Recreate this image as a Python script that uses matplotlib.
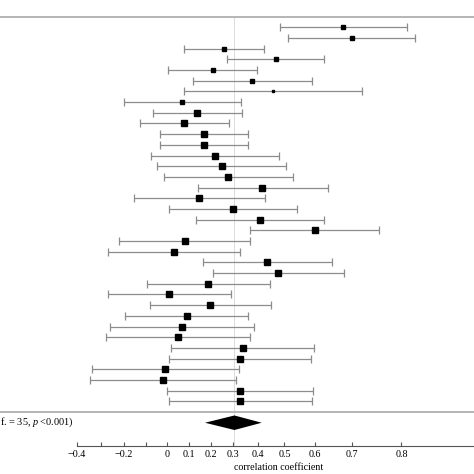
import numpy as np
import matplotlib
matplotlib.use('Agg')
import matplotlib.pyplot as plt
import matplotlib.transforms as mtransforms

# study estimates, top to bottom (correlation r with 95% CI)
r = [0.678, 0.699, 0.260, 0.469, 0.210, 0.379, 0.460, 0.070, 0.140, 0.080,
     0.170, 0.170, 0.220, 0.250, 0.279, 0.419, 0.149, 0.300, 0.410, 0.599,
     0.081, 0.030, 0.438, 0.478, 0.190, 0.010, 0.199, 0.091, 0.070, 0.050,
     0.340, 0.329, -0.009, -0.020, 0.329, 0.329]
ciLow = [0.485, 0.514, 0.077, 0.273, 0.005, 0.118, 0.080, -0.202, -0.067, -0.126,
         -0.036, -0.036, -0.078, -0.047, -0.015, 0.142, -0.153, 0.008, 0.132, 0.371,
         -0.221, -0.271, 0.167, 0.210, -0.096, -0.270, -0.083, -0.197, -0.261, -0.280,
         0.017, 0.010, -0.338, -0.346, 0.000, 0.008]
ciHigh = [0.809, 0.822, 0.426, 0.627, 0.399, 0.591, 0.723, 0.334, 0.335, 0.282,
          0.363, 0.363, 0.482, 0.506, 0.529, 0.637, 0.428, 0.544, 0.626, 0.759,
          0.368, 0.327, 0.649, 0.681, 0.447, 0.290, 0.453, 0.362, 0.387, 0.368,
          0.598, 0.589, 0.324, 0.311, 0.593, 0.590]
# relative study weights (marker area)
weights = [1.6, 1.6, 1.6, 1.2, 1.5, 0.9, 0.4, 0.9, 3.4, 3.2,
           3.4, 3.4, 3.0, 2.8, 2.8, 2.8, 2.8, 2.8, 2.8, 2.8,
           2.8, 2.8, 2.8, 2.8, 2.8, 2.8, 2.8, 2.8, 2.8, 2.8,
           2.8, 2.8, 2.8, 2.8, 2.8, 2.8]

pooledR = 0.305
pooledLow = 0.175
pooledHigh = 0.416
pooledText = 'f. = 35, $p$ <0.001)'

tickValues = [-0.4, -0.2, 0, 0.1, 0.2, 0.3, 0.4, 0.5, 0.6, 0.7, 0.8]
tickLabels = ['\u22120.4', '\u22120.2', '0', '0.1', '0.2', '0.3', '0.4', '0.5', '0.6', '0.7', '0.8']
minorTicks = [-0.3, -0.1]


def fisherZ(x):
    return np.arctanh(np.clip(x, -0.9999, 0.9999))


plt.rcParams['font.family'] = ['Liberation Serif', 'DejaVu Serif']
plt.rcParams['mathtext.fontset'] = 'custom'
plt.rcParams['mathtext.it'] = 'Liberation Serif:italic'
plt.rcParams['mathtext.rm'] = 'Liberation Serif'

fig = plt.figure(figsize=(4.74, 4.74), dpi=100)
ax = fig.add_axes([0, 28.5 / 474, 1, 445.5 / 474])
ax.set_xlim(-0.6556, 0.8935)
ax.set_xscale('function', functions=(fisherZ, np.tanh))
ax.set_xlim(-0.6556, 0.8935)
ax.set_ylim(39.13, -2.555)
ax.autoscale(False)

n = len(r)
rows = np.arange(n)

lineGray = '#8c8c8c'
for i in range(n):
    ax.errorbar(r[i], rows[i], xerr=[[r[i] - ciLow[i]], [ciHigh[i] - r[i]]],
                fmt='none', ecolor=lineGray, elinewidth=0.9, capsize=3.2,
                capthick=0.9, zorder=2)
    ax.plot(r[i], rows[i], marker='s', color='black', linestyle='none',
            markersize=2.4 * np.sqrt(weights[i]), zorder=3)

# overall estimate diamond
h = 0.68
ax.fill([pooledLow, pooledR, pooledHigh, pooledR], [n + 1, n + 1 - h, n + 1, n + 1 + h],
        color='black', zorder=3, linewidth=0)

ax.vlines(pooledR, -1, 39.1, color='#d6d6d6', linewidth=0.6, zorder=1)
ax.axhline(-1, color='#b4b4b4', linewidth=1.4)
ax.axhline(n, color='#b4b4b4', linewidth=1.4)

trans = mtransforms.blended_transform_factory(ax.transAxes, ax.transData)
ax.text(0.0, n + 1, pooledText, transform=trans, ha='left', va='center', fontsize=7.4)

for side in ['top', 'left', 'right']:
    ax.spines[side].set_visible(False)
ax.spines['bottom'].set_bounds(-0.4, 0.8935)
ax.spines['bottom'].set_color('#555555')
ax.spines['bottom'].set_linewidth(0.8)

ax.set_xticks(tickValues)
ax.set_xticklabels(tickLabels)
ax.set_xticks(minorTicks, minor=True)
ax.tick_params(axis='x', which='both', direction='in', length=3, width=0.8,
               color='#555555', labelsize=7.3, pad=3)
ax.set_yticks([])

ax.set_xlabel('correlation coefficient', fontsize=7.2)
ax.xaxis.set_label_coords(0.588, -0.039)

fig.savefig('out.png', dpi=100)
